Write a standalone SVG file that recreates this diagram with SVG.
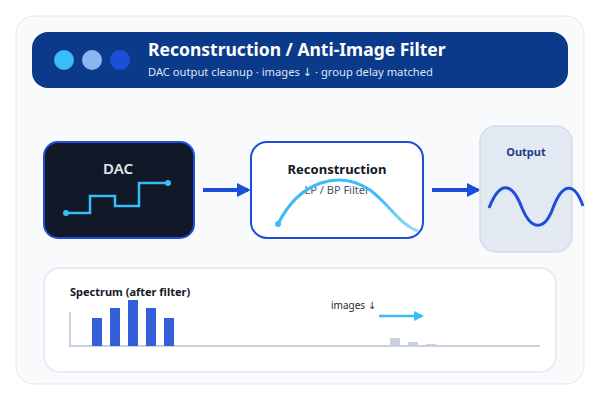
<svg xmlns="http://www.w3.org/2000/svg" width="600" height="400" viewBox="0 0 600 400">
<style>
text{font-family:"Noto Sans","DejaVu Sans",sans-serif}
.conn{stroke:#1d4ed8;stroke-width:4;fill:none}
.bar{fill:#345fdb}
.img{fill:#c8d1df}
</style>
<defs>
<marker id="ah" viewBox="0 0 10 10" refX="8" refY="5" markerWidth="3.5" markerHeight="3.5" orient="auto"><path d="M0,0L10,5L0,10z" fill="#1d4ed8"/></marker>
<marker id="ah2" viewBox="0 0 10 10" refX="8" refY="5" markerWidth="4" markerHeight="4" orient="auto"><path d="M0,0L10,5L0,10z" fill="#38bdf8"/></marker>
<linearGradient id="g" x1="0" x2="1" y1="0" y2="0"><stop offset="0" stop-color="#38bdf8"/><stop offset="0.7" stop-color="#38bdf8"/><stop offset="1" stop-color="#a5d8f8"/></linearGradient>
</defs>
<rect x="16" y="16" width="568" height="368" rx="18" fill="#f8fafc" stroke="#e2e8f0"/>
<g id="header">
<rect x="32" y="32" width="536" height="56" rx="16" fill="#0c3a8a"/>
<circle cx="64" cy="60" r="10" fill="#38bdf8"/>
<circle cx="92" cy="60" r="10" fill="#8db6f0"/>
<circle cx="120" cy="60" r="10" fill="#1d4ed8"/>
<text x="148" y="56" font-size="17.5" font-weight="bold" fill="#fff">Reconstruction / Anti-Image Filter</text>
<text x="148" y="76" font-size="11.2" fill="#dbe6f7">DAC output cleanup · images ↓ · group delay matched</text>
</g>
<g id="connectors">
<line x1="203" y1="190" x2="248" y2="190" class="conn" marker-end="url(#ah)"/>
<line x1="432" y1="190" x2="478" y2="190" class="conn" marker-end="url(#ah)"/>
</g>
<g id="dac">
<rect x="44" y="142" width="150" height="96" rx="14" fill="#111827" stroke="#1d4ed8" stroke-width="2"/>
<text x="118" y="174" font-size="15" font-weight="600" text-anchor="middle" fill="#e2e8f0">DAC</text>
<polyline points="66,213 90,213 90,196 115,196 115,206 139,206 139,183 168,183" fill="none" stroke="#38bdf8" stroke-width="2.5"/>
<circle cx="66" cy="213" r="3" fill="#38bdf8"/>
<circle cx="168" cy="183" r="3" fill="#38bdf8"/>
</g>
<g id="reconstruction">
<rect x="251" y="142" width="172" height="96" rx="16" fill="#fff" stroke="#1d4ed8" stroke-width="2"/>
<text x="337" y="174" font-size="13" font-weight="bold" text-anchor="middle" fill="#111827">Reconstruction</text>
<text x="337" y="194" font-size="11" text-anchor="middle" fill="#475569">LP / BP Filter</text>
<path d="M278,224 C300,180 340,170 370,190 C390,205 400,225 418,231" fill="none" stroke="url(#g)" stroke-width="3"/>
<circle cx="278" cy="224" r="3" fill="#38bdf8"/>
</g>
<g id="output">
<rect x="480" y="126" width="92" height="126" rx="16" fill="#e3e9f3" stroke="#d3dcec" stroke-width="1.5"/>
<text x="526" y="156" font-size="11" font-weight="bold" text-anchor="middle" fill="#1e3a8a">Output</text>
<path d="M489,208 C500,180 512,182 522,208 C532,232 545,230 553,208 C562,184 574,180 583,206" fill="none" stroke="#1d4ed8" stroke-width="3"/>
</g>
<g id="spectrum">
<rect x="44" y="268" width="512" height="104" rx="16" fill="#fff" stroke="#e2e8f0" stroke-width="1.5"/>
<text x="70" y="296" font-size="11" font-weight="bold" fill="#111827">Spectrum (after filter)</text>
<polyline points="70,312 70,346 540,346" fill="none" stroke="#c8d1df" stroke-width="2"/>
<rect class="bar" x="92" y="318" width="10" height="28"/>
<rect class="bar" x="110" y="308" width="10" height="38"/>
<rect class="bar" x="128" y="300" width="10" height="46"/>
<rect class="bar" x="146" y="308" width="10" height="38"/>
<rect class="bar" x="164" y="318" width="10" height="28"/>
<rect class="img" x="390" y="338" width="10" height="8"/>
<rect class="img" x="408" y="342" width="10" height="4"/>
<rect class="img" x="426" y="344" width="10" height="2"/>
<text x="331" y="309" font-size="10" fill="#1f2937">images ↓</text>
<line x1="379" y1="316" x2="422" y2="316" stroke="#38bdf8" stroke-width="2.5" marker-end="url(#ah2)"/>
</g>
</svg>
